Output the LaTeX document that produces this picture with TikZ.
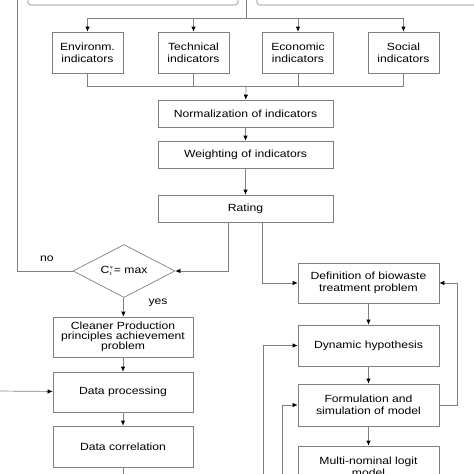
\documentclass[tikz,border=0pt]{standalone}
\usepackage{fontspec}
\setmainfont[FakeStretch=1.17]{Liberation Sans}
\usetikzlibrary{arrows.meta,positioning,shapes.geometric,shapes.misc,calc}

\begin{document}
\begin{tikzpicture}[x = 1pt, y = -1pt,
  box/.style = {draw = black!50, line width = .7pt, align = center, inner sep = 1pt,
                font = \fontsize{10.4}{12}\selectfont},
  line/.style = {draw = black!50, line width = .7pt},
  lbl/.style = {font = \fontsize{10.4}{12}\selectfont},
  >={Latex[length = 5pt, width = 4.5pt, color = black]}]
\useasboundingbox (0,0) rectangle (474,474);
\clip (0,0) rectangle (474,474);
% cut-off shapes at the top
\node[box, chamfered rectangle, chamfered rectangle xsep = 7pt, chamfered rectangle ysep = 5pt,
      minimum width = 210pt, minimum height = 40pt] (srcl) at (133,-15) {};
\node[box, chamfered rectangle, chamfered rectangle xsep = 7pt, chamfered rectangle ysep = 5pt,
      minimum width = 226pt, minimum height = 40pt] (srcr) at (370,-15) {};
\coordinate (top) at (246,-5);
\coordinate (split) at (246,18);
\coordinate (coll) at (246,86);
% indicators
\node[box, minimum width = 71pt, minimum height = 41pt] (env) at (87.5,52.5) {Environm.\\indicators};
\node[box, minimum width = 71pt, minimum height = 41pt] (tech) at (193.5,52.5) {Technical\\indicators};
\node[box, minimum width = 71pt, minimum height = 41pt] (econ) at (298,52.5) {Economic\\indicators};
\node[box, minimum width = 71pt, minimum height = 41pt] (soc) at (403.5,52.5) {Social\\indicators};
\node[box, minimum width = 175pt, minimum height = 27pt] (norm) at (245.5,113.5) {Normalization of indicators};
\node[box, minimum width = 175pt, minimum height = 27pt] (weight) at (245.5,154.5) {Weighting of indicators};
\node[box, minimum width = 175pt, minimum height = 27pt] (rating) at (245.5,208.5) {Rating};
% left branch
\node[box, diamond, aspect = 1.9, minimum width = 102pt, minimum height = 53pt] (dec) at (124,271) {C$_i^*$= max};
\node[box, minimum width = 140pt, minimum height = 40pt, font = \fontsize{10.4}{9.6}\selectfont] (cp) at (123,337) {Cleaner Production\\principles achievement\\problem};
\node[box, minimum width = 140pt, minimum height = 40pt] (dproc) at (123,392) {Data processing};
\node[box, minimum width = 140pt, minimum height = 41pt] (dcorr) at (123,446.5) {Data correlation};
% right branch
\node[box, minimum width = 141pt, minimum height = 40pt] (defn) at (368.5,283) {Definition of biowaste\\treatment problem};
\node[box, minimum width = 141pt, minimum height = 41pt] (dyn) at (368.5,345.5) {Dynamic hypothesis};
\node[box, minimum width = 141pt, minimum height = 42pt] (form) at (368.5,405) {Formulation and\\simulation of model};
\node[box, minimum width = 141pt, minimum height = 42pt] (mnl) at (368.5,467) {Multi-nominal logit\\model};
\coordinate (notop) at (17,-5);
\coordinate (leftin) at (-5,391);
\coordinate (dcout) at (123,480);
\coordinate (inA) at (263,480);
\coordinate (inB) at (282,480);
\node[lbl] (no) at (47,259) {no};
\node[lbl] (yes) at (158,303) {yes};
% connectors
\draw[line] (top) -- (split);
\draw[line, ->] (split) -| (env);
\draw[line, ->] (split) -| (tech);
\draw[line, ->] (split) -| (econ);
\draw[line, ->] (split) -| (soc);
\draw[line] (env) |- (coll);
\draw[line] (tech) |- (coll);
\draw[line] (econ) |- (coll);
\draw[line] (soc) |- (coll);
\draw[line, ->] (coll) -- (norm);
\draw[line, ->] (norm) -- (weight);
\draw[line, ->] (weight) -- (rating);
\draw[line, ->] ($(rating.south)+(-17,0)$) |- (dec.east);
\draw[line, ->] ($(rating.south)+(17,0)$) |- (defn.west);
\draw[line] (dec.west) -| (notop);
\draw[line, ->] (dec) -- (cp);
\draw[line, ->] (cp) -- (dproc);
\draw[line, ->] (dproc) -- (dcorr);
\draw[line, ->] (leftin) -- (dproc);
\draw[line] (dcorr) -- (dcout);
\draw[line, ->] (defn) -- (dyn);
\draw[line, ->] (dyn) -- (form);
\draw[line, ->] (form) -- (mnl);
\draw[line, ->] (form.east) -- ++(18,0) |- (defn.east);
\draw[line, ->] (inA) |- (dyn.west);
\draw[line, ->] (inB) |- (form.west);
\end{tikzpicture}
\end{document}
